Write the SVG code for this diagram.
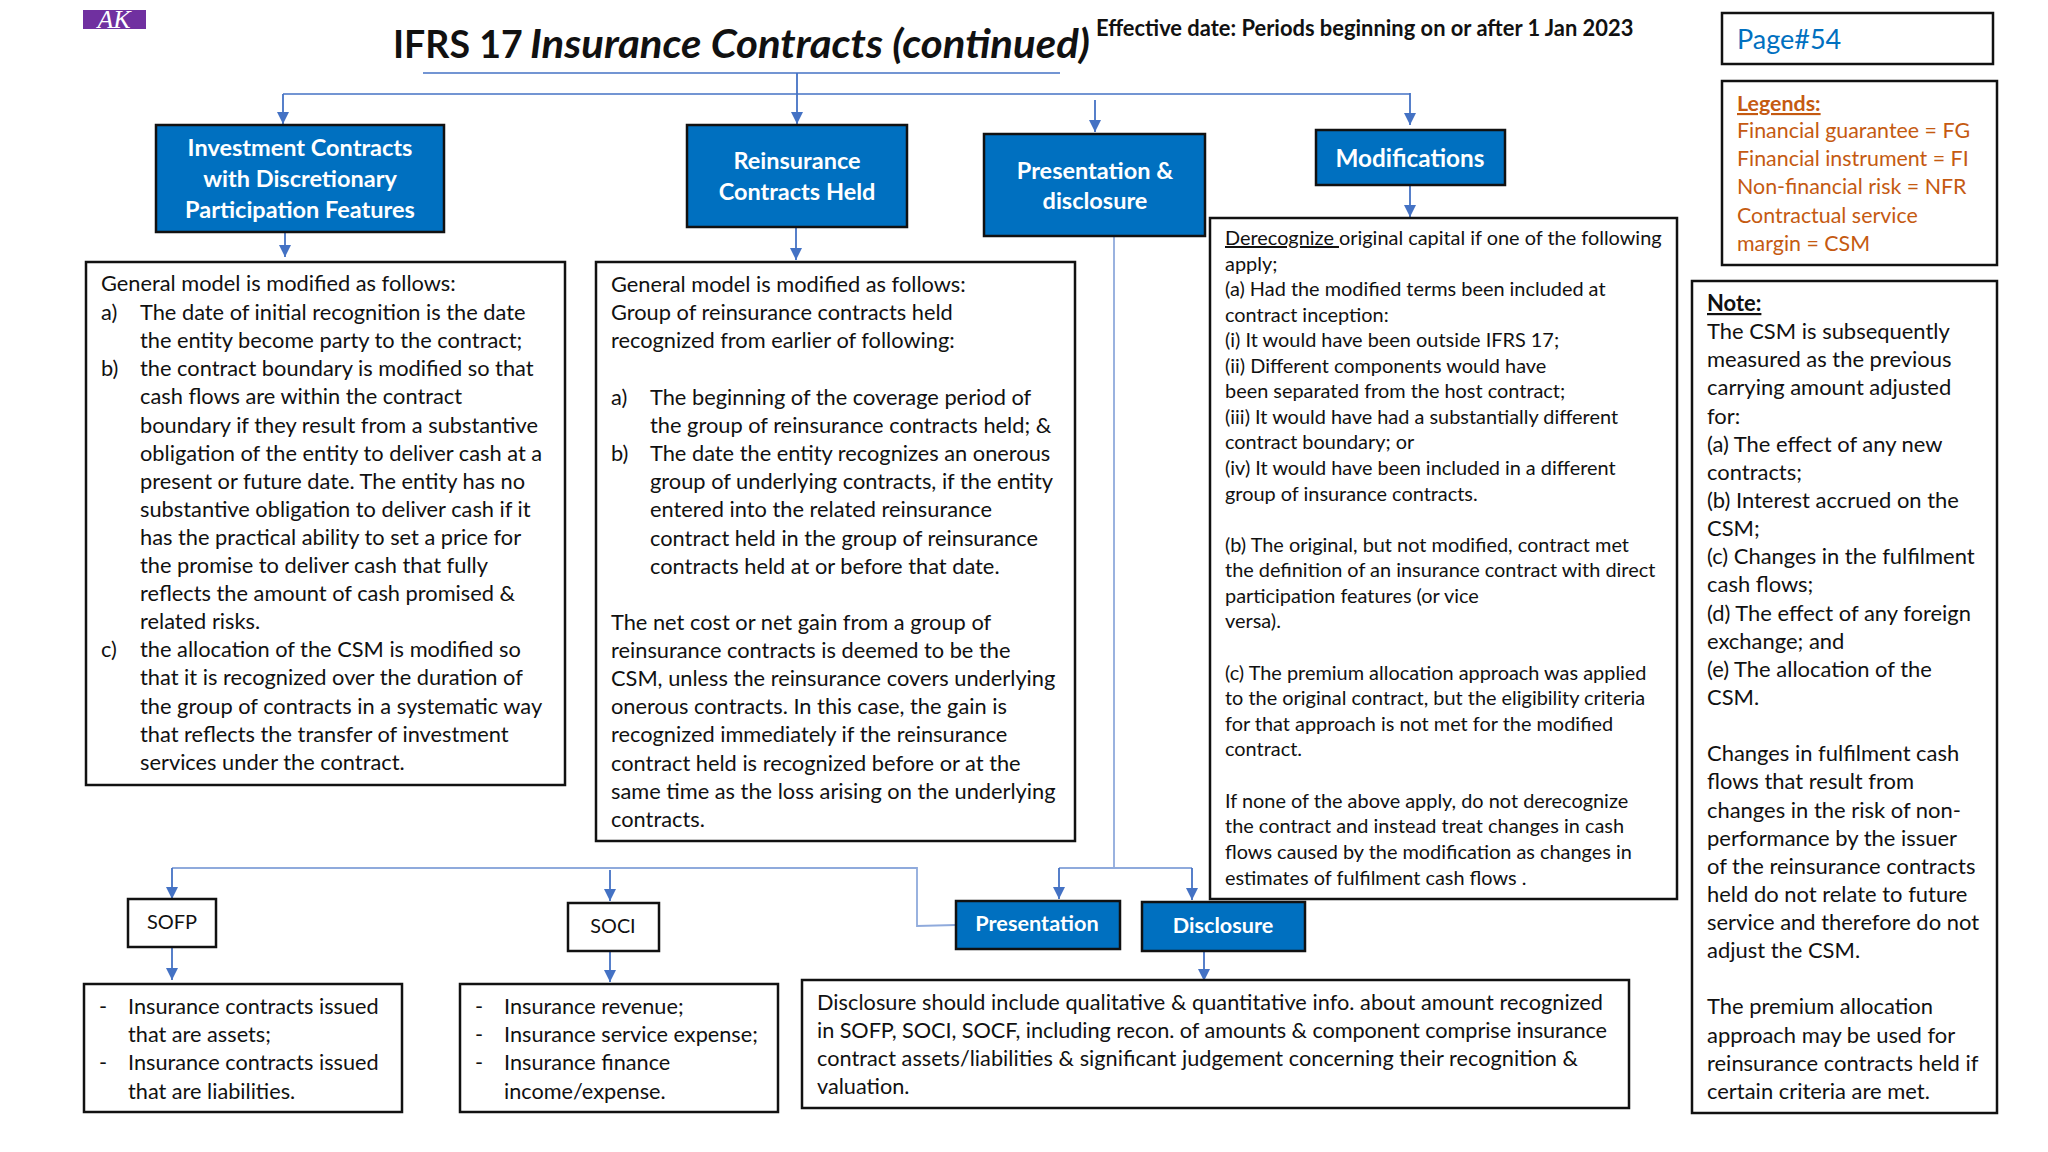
<svg xmlns="http://www.w3.org/2000/svg" width="2048" height="1152" viewBox="0 0 2048 1152">
<defs>
<marker id="a" markerWidth="12" markerHeight="12" refX="12" refY="6" orient="auto" markerUnits="userSpaceOnUse" viewBox="0 0 12 12"><path d="M0 0L12 6L0 12Z" fill="#4472C4"/></marker>
</defs>
<style>
text{font-family:Lato,"Liberation Sans",sans-serif;fill:#111}
.b{fill:#fff;stroke:#111;stroke-width:2.5}
.h{fill:#0070C0;stroke:#111;stroke-width:2.5}
.ht{fill:#fff;font-weight:700;font-size:23.5px;text-anchor:middle}
.t{font-size:21.8px}
.s{font-size:21.7px}
.n{font-size:21.95px}
.m{font-size:19.9px}
.l{fill:#C55A11;font-size:21.4px}
.c{fill:none;stroke:#4472C4;stroke-width:1.6}
.ca{fill:none;stroke:#4472C4;stroke-width:1.8;marker-end:url(#a)}
.p{fill:none;stroke:#8FAADC;stroke-width:1.8}
</style>
<rect width="2048" height="1152" fill="#fff"/>
<g id="logo"><rect x="83" y="10" width="63" height="19" fill="#7030A0"/><text x="114" y="28" text-anchor="middle" font-size="26" font-style="italic" style="font-family:'Liberation Serif',serif;fill:#fff">AK</text></g>
<g id="title"><text x="393" y="58" font-size="37.5" font-weight="700">IFRS 17</text><text x="530" y="58" font-size="40" font-weight="700" font-style="italic" textLength="560" lengthAdjust="spacingAndGlyphs">Insurance Contracts (continued)</text>
<text x="1096" y="36" font-size="21.9" font-weight="700">Effective date: Periods beginning on or after 1 Jan 2023</text></g>
<g id="connectors">
<path class="c" d="M423 73H1060"/>
<path class="ca" d="M797 73V124"/>
<path class="c" d="M283 94H1410"/>
<path class="ca" d="M283 94V124"/>
<path class="ca" d="M1095 100V132"/>
<path class="ca" d="M1410 93V125"/>
<path class="ca" d="M285 226V257"/>
<path class="ca" d="M796 228V260"/>
<path class="ca" d="M1410 185V217"/>
<path class="p" d="M1114 236V868"/>
<path class="p" d="M172 868H917V926L956 925"/>
<path class="ca" d="M172 868V899"/>
<path class="ca" d="M610 870V901"/>
<path class="p" d="M1059 868H1192"/>
<path class="ca" d="M1059 868V899"/>
<path class="ca" d="M1192 868V900"/>
<path class="ca" d="M172 947V980"/>
<path class="ca" d="M610 951V982"/>
<path class="ca" d="M1204 951V981"/>
</g>
<g id="n-investment"><rect class="h" x="156" y="125" width="288" height="107"/><text class="ht" x="300" y="156">Investment Contracts</text><text class="ht" x="300" y="187">with Discretionary</text><text class="ht" x="300" y="218">Participation Features</text></g>
<g id="n-reinsurance"><rect class="h" x="687" y="125" width="220" height="102"/><text class="ht" x="797" y="169">Reinsurance</text><text class="ht" x="797" y="200">Contracts Held</text></g>
<g id="n-presdisc"><rect class="h" x="984" y="134" width="221" height="102"/><text class="ht" x="1095" y="179">Presentation &amp;</text><text class="ht" x="1095" y="209">disclosure</text></g>
<g id="n-modifications"><rect class="h" x="1316" y="130" width="189" height="55"/><text class="ht" style="font-size:24.3px" x="1410" y="167">Modifications</text></g>
<g id="n-page"><rect class="b" x="1722" y="13" width="271" height="51"/><text x="1737" y="49" font-size="27" style="fill:#0070C0">Page#54</text></g>
<g id="n-legends"><rect class="b" x="1722" y="81" width="275" height="184"/>
<text class="l" x="1737" y="111" font-weight="700" text-decoration="underline">Legends:</text>
<text class="l" x="1737" y="138">Financial guarantee = FG</text>
<text class="l" x="1737" y="166">Financial instrument = FI</text>
<text class="l" x="1737" y="194">Non-financial risk = NFR</text>
<text class="l" x="1737" y="223">Contractual service</text>
<text class="l" x="1737" y="251">margin = CSM</text></g>
<g id="n-note" class="n"><rect class="b" x="1692" y="281" width="305" height="832"/>
<text x="1707" y="311" font-weight="700" text-decoration="underline">Note:</text>
<text x="1707" y="339">The CSM is subsequently</text>
<text x="1707" y="367">measured as the previous</text>
<text x="1707" y="395">carrying amount adjusted</text>
<text x="1707" y="424">for:</text>
<text x="1707" y="452">(a) The effect of any new</text>
<text x="1707" y="480">contracts;</text>
<text x="1707" y="508">(b) Interest accrued on the</text>
<text x="1707" y="536">CSM;</text>
<text x="1707" y="564">(c) Changes in the fulfilment</text>
<text x="1707" y="592">cash flows;</text>
<text x="1707" y="621">(d) The effect of any foreign</text>
<text x="1707" y="649">exchange; and</text>
<text x="1707" y="677">(e) The allocation of the</text>
<text x="1707" y="705">CSM.</text>
<text x="1707" y="761">Changes in fulfilment cash</text>
<text x="1707" y="789">flows that result from</text>
<text x="1707" y="818">changes in the risk of non-</text>
<text x="1707" y="846">performance by the issuer</text>
<text x="1707" y="874">of the reinsurance contracts</text>
<text x="1707" y="902">held do not relate to future</text>
<text x="1707" y="930">service and therefore do not</text>
<text x="1707" y="958">adjust the CSM.</text>
<text x="1707" y="1014">The premium allocation</text>
<text x="1707" y="1043">approach may be used for</text>
<text x="1707" y="1071">reinsurance contracts held if</text>
<text x="1707" y="1099">certain criteria are met.</text>
</g>
<g id="n-box1" class="t"><rect class="b" x="86" y="262" width="479" height="523"/>
<text x="101" y="291">General model is modified as follows:</text>
<text x="101" y="320">a)</text><text x="140" y="320">The date of initial recognition is the date</text>
<text x="140" y="348">the entity become party to the contract;</text>
<text x="101" y="376">b)</text><text x="140" y="376">the contract boundary is modified so that</text>
<text x="140" y="404">cash flows are within the contract</text>
<text x="140" y="433">boundary if they result from a substantive</text>
<text x="140" y="461">obligation of the entity to deliver cash at a</text>
<text x="140" y="489">present or future date. The entity has no</text>
<text x="140" y="517">substantive obligation to deliver cash if it</text>
<text x="140" y="545">has the practical ability to set a price for</text>
<text x="140" y="573">the promise to deliver cash that fully</text>
<text x="140" y="601">reflects the amount of cash promised &amp;</text>
<text x="140" y="629">related risks.</text>
<text x="101" y="657">c)</text><text x="140" y="657">the allocation of the CSM is modified so</text>
<text x="140" y="685">that it is recognized over the duration of</text>
<text x="140" y="714">the group of contracts in a systematic way</text>
<text x="140" y="742">that reflects the transfer of investment</text>
<text x="140" y="770">services under the contract.</text>
</g>
<g id="n-box2" class="t"><rect class="b" x="596" y="262" width="479" height="579"/>
<text x="611" y="292">General model is modified as follows:</text>
<text x="611" y="320">Group of reinsurance contracts held</text>
<text x="611" y="348">recognized from earlier of following:</text>
<text x="611" y="405">a)</text><text x="650" y="405">The beginning of the coverage period of</text>
<text x="650" y="433">the group of reinsurance contracts held; &amp;</text>
<text x="611" y="461">b)</text><text x="650" y="461">The date the entity recognizes an onerous</text>
<text x="650" y="489">group of underlying contracts, if the entity</text>
<text x="650" y="517">entered into the related reinsurance</text>
<text x="650" y="546">contract held in the group of reinsurance</text>
<text x="650" y="574">contracts held at or before that date.</text>
<text x="611" y="630">The net cost or net gain from a group of</text>
<text x="611" y="658">reinsurance contracts is deemed to be the</text>
<text x="611" y="686">CSM, unless the reinsurance covers underlying</text>
<text x="611" y="714">onerous contracts. In this case, the gain is</text>
<text x="611" y="742">recognized immediately if the reinsurance</text>
<text x="611" y="771">contract held is recognized before or at the</text>
<text x="611" y="799">same time as the loss arising on the underlying</text>
<text x="611" y="827">contracts.</text>
</g>
<g id="n-box3" class="m"><rect class="b" x="1210" y="218" width="467" height="681"/>
<text x="1225" y="245"><tspan text-decoration="underline">Derecognize </tspan>original capital if one of the following</text>
<text x="1225" y="271">apply;</text>
<text x="1225" y="296">(a) Had the modified terms been included at</text>
<text x="1225" y="322">contract inception:</text>
<text x="1225" y="347">(i) It would have been outside IFRS 17;</text>
<text x="1225" y="373">(ii) Different components would have</text>
<text x="1225" y="398">been separated from the host contract;</text>
<text x="1225" y="424">(iii) It would have had a substantially different</text>
<text x="1225" y="449">contract boundary; or</text>
<text x="1225" y="475">(iv) It would have been included in a different</text>
<text x="1225" y="501">group of insurance contracts.</text>
<text x="1225" y="552">(b) The original, but not modified, contract met</text>
<text x="1225" y="577">the definition of an insurance contract with direct</text>
<text x="1225" y="603">participation features (or vice</text>
<text x="1225" y="628">versa).</text>
<text x="1225" y="680">(c) The premium allocation approach was applied</text>
<text x="1225" y="705">to the original contract, but the eligibility criteria</text>
<text x="1225" y="731">for that approach is not met for the modified</text>
<text x="1225" y="756">contract.</text>
<text x="1225" y="808">If none of the above apply, do not derecognize</text>
<text x="1225" y="833">the contract and instead treat changes in cash</text>
<text x="1225" y="859">flows caused by the modification as changes in</text>
<text x="1225" y="885">estimates of fulfilment cash flows .</text>
</g>
<g id="n-sofp"><rect class="b" x="128" y="899" width="88" height="48"/><text x="172" y="929" font-size="20" text-anchor="middle">SOFP</text></g>
<g id="n-soci"><rect class="b" x="568" y="903" width="91" height="48"/><text x="613" y="933" font-size="19.8" text-anchor="middle">SOCI</text></g>
<g id="n-presentation"><rect class="h" x="956" y="901" width="164" height="48"/><text class="ht" style="font-size:21.7px" x="1037" y="931">Presentation</text></g>
<g id="n-disclosure"><rect class="h" x="1142" y="902" width="163" height="49"/><text class="ht" style="font-size:21.6px" x="1223" y="933">Disclosure</text></g>
<g id="n-sofpbox" class="s"><rect class="b" x="84" y="984" width="318" height="128"/>
<text x="99" y="1014">-</text><text x="128" y="1014">Insurance contracts issued</text>
<text x="128" y="1042">that are assets;</text>
<text x="99" y="1070">-</text><text x="128" y="1070">Insurance contracts issued</text>
<text x="128" y="1099">that are liabilities.</text></g>
<g id="n-socibox" class="s"><rect class="b" x="460" y="984" width="318" height="128"/>
<text x="475" y="1014">-</text><text x="504" y="1014">Insurance revenue;</text>
<text x="475" y="1042">-</text><text x="504" y="1042">Insurance service expense;</text>
<text x="475" y="1070">-</text><text x="504" y="1070">Insurance finance</text>
<text x="504" y="1099">income/expense.</text></g>
<g id="n-disclosurebox" class="s"><rect class="b" x="802" y="980" width="827" height="128"/>
<text x="817" y="1010" textLength="786">Disclosure should include qualitative &amp; quantitative info. about amount recognized</text>
<text x="817" y="1038" textLength="790">in SOFP, SOCI, SOCF, including recon. of amounts &amp; component comprise insurance</text>
<text x="817" y="1066" textLength="761">contract assets/liabilities &amp; significant judgement concerning their recognition &amp;</text>
<text x="817" y="1094">valuation.</text></g>
</svg>
